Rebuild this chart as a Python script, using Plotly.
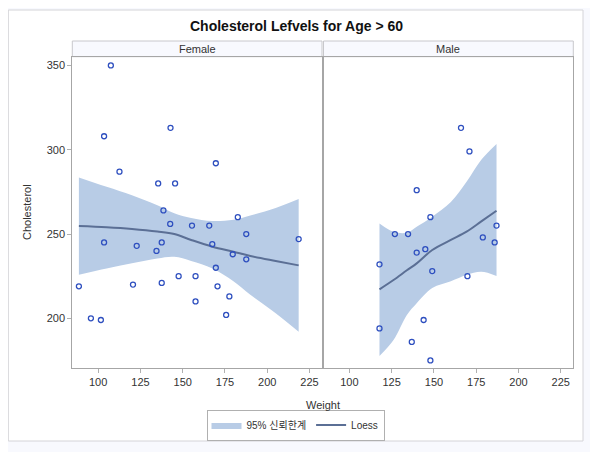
import plotly.graph_objects as go

# scatter data (Age > 60)
female_w = [107.5, 103.5, 142.8, 112.6, 169.6, 135.5, 145.5, 138.6, 182.6, 142.6,
            155.5, 165.7, 187.6, 218.6, 103.5, 122.8, 137.6, 134.5, 167.5, 179.6,
            187.6, 169.6, 88.6, 120.6, 137.6, 147.6, 157.6, 170.6, 177.6, 157.6,
            175.7, 95.7, 101.6]
female_c = [350, 308, 313, 287, 292, 280, 280, 264, 260, 256,
            255, 255, 250, 247, 245, 243, 245, 240, 244, 238,
            235, 230, 219, 220, 221, 225, 225, 219, 213, 210,
            202, 200, 199]

male_w = [166, 171, 139.8, 147.9, 187, 126.9, 134.7, 178.9, 185.9, 139.8,
          144.9, 117.8, 149, 169.8, 143.9, 117.8, 136.9, 147.9]
male_c = [313, 299, 276, 260, 255, 250, 250, 248, 245, 239,
          241, 232, 228, 225, 199, 194, 186, 175]

# loess fit and 95% limits
female_fit_x = [88.6, 105, 120, 135, 145, 155, 167.6, 180, 190, 205, 218.6]
female_fit_y = [254.7, 254, 253, 251.5, 250, 246.5, 242.5, 239.5, 237, 234, 231.4]
female_up = [283.6, 278, 273, 267, 262.3, 259.5, 257.7, 258.5, 261, 265.5, 270.8]
female_lo = [225.9, 229.5, 232.6, 235.5, 236.5, 234, 229.6, 222, 214, 203, 192]

male_fit_x = [117.8, 126.1, 134, 139.8, 149, 160, 169.3, 178, 187]
male_fit_y = [217.2, 222.7, 228.5, 232.6, 240.5, 246.5, 251.4, 257.5, 263.8]
male_up = [256.3, 251.4, 250.8, 254.3, 260.3, 269, 281, 294, 303.4]
male_lo = [177.6, 187.1, 202, 209, 218, 222, 225.7, 227.6, 225.1]

x_ticks = [100, 125, 150, 175, 200, 225]
y_ticks = [200, 250, 300, 350]

W, H = 598, 452
OFF = 8  # page body margin pushes the figure 8px right/down
BAND = "#b8cce6"
LINE = "#5b6f95"
MARK = "#2e4fbf"
FONT = "Liberation Sans, Noto Sans CJK KR"


def px_x(p):
    return (p - OFF) / W


def px_y(p):
    return 1 - (p - OFF) / H


fig = go.Figure()

panels = [("x", "y", female_w, female_c, female_fit_x, female_fit_y, female_up, female_lo),
          ("x2", "y2", male_w, male_c, male_fit_x, male_fit_y, male_up, male_lo)]

for i, (xa, ya, w, c, fx, fy, up, lo) in enumerate(panels):
    # lower limit first, then upper filled down to it
    fig.add_trace(go.Scatter(
        x=fx, y=lo, xaxis=xa, yaxis=ya, mode="lines",
        line=dict(width=0, color=BAND, shape="spline"),
        showlegend=False, hoverinfo="skip"))
    fig.add_trace(go.Scatter(
        x=fx, y=up, xaxis=xa, yaxis=ya, mode="lines",
        fill="tonexty", fillcolor=BAND, line=dict(width=0, color=BAND, shape="spline"),
        name="95% 신뢰한계", showlegend=(i == 0), legendgroup="band", hoverinfo="skip"))
    fig.add_trace(go.Scatter(
        x=fx, y=fy, xaxis=xa, yaxis=ya, mode="lines",
        line=dict(color=LINE, width=2, shape="spline"),
        name="Loess", showlegend=(i == 0), legendgroup="fit"))
    fig.add_trace(go.Scatter(
        x=w, y=c, xaxis=xa, yaxis=ya, mode="markers",
        marker=dict(symbol="circle-open", size=5, color=MARK, line=dict(width=1.3, color=MARK)),
        showlegend=False))

left_dom = [px_x(72.3), px_x(322)]
right_dom = [px_x(323.5), px_x(573.3)]
y_dom = [px_y(367.7), px_y(56.7)]

axis_common = dict(showline=True, linecolor="#a6a6a6", linewidth=1, mirror=True,
                   showgrid=False, zeroline=False, ticks="outside", ticklen=4,
                   tickcolor="#b0b0b0", tickfont=dict(size=11, color="#333333", family=FONT))

fig.update_layout(
    width=W, height=H,
    margin=dict(l=0, r=0, t=0, b=0),
    paper_bgcolor="#f8f9fe", plot_bgcolor="white",
    font=dict(family=FONT, color="#333333"),
    xaxis=dict(domain=left_dom, range=[84.7, 232.4], tickvals=x_ticks, anchor="y", **axis_common),
    xaxis2=dict(domain=right_dom, range=[84.7, 232.4], tickvals=x_ticks, anchor="y2", **axis_common),
    yaxis=dict(domain=y_dom, range=[170.7, 355.2], tickvals=y_ticks, anchor="x", **axis_common),
    yaxis2=dict(domain=y_dom, range=[170.7, 355.2], tickvals=y_ticks, anchor="x2",
                showticklabels=False, ticks="", **{k: v for k, v in axis_common.items()
                                                   if k not in ("ticks", "ticklen", "tickcolor", "tickfont")}),
    showlegend=True,
    legend=dict(orientation="h", x=px_x(295.5), xanchor="center", y=px_y(425), yanchor="middle",
                bgcolor="white", bordercolor="#b0b0b0", borderwidth=1,
                font=dict(size=10, color="#333333", family=FONT),
                itemwidth=30, tracegroupgap=0),
    hovermode=False,
)

shapes = [
    # white chart frame
    dict(type="rect", xref="paper", yref="paper", x0=px_x(8.3), x1=px_x(583),
         y0=px_y(441), y1=px_y(10), fillcolor="white", line=dict(color="#d4d4d8", width=1),
         layer="below"),
]
for dom, label in [(left_dom, "Female"), (right_dom, "Male")]:
    shapes.append(dict(type="rect", xref="paper", yref="paper", x0=dom[0], x1=dom[1],
                       y0=px_y(56.7), y1=px_y(41), fillcolor="#f8f9fe",
                       line=dict(color="#c8c8cc", width=1), layer="below"))
fig.update_layout(shapes=shapes)

ann = [
    dict(text="<b>Cholesterol Lefvels for Age > 60</b>", x=px_x(296), y=px_y(26),
         font=dict(size=14, color="#111111")),
    dict(text="Female", x=(left_dom[0] + left_dom[1]) / 2, y=px_y(49), font=dict(size=11)),
    dict(text="Male", x=(right_dom[0] + right_dom[1]) / 2, y=px_y(49), font=dict(size=11)),
    dict(text="Weight", x=px_x(323), y=px_y(405), font=dict(size=11)),
    dict(text="Cholesterol", x=px_x(27), y=px_y(212), textangle=-90, font=dict(size=11)),
]
for a in ann:
    a.update(xref="paper", yref="paper", showarrow=False, xanchor="center", yanchor="middle")
    a["font"].setdefault("family", FONT)
    a["font"].setdefault("color", "#333333")
fig.update_layout(annotations=ann)

fig.write_html("out.html")
